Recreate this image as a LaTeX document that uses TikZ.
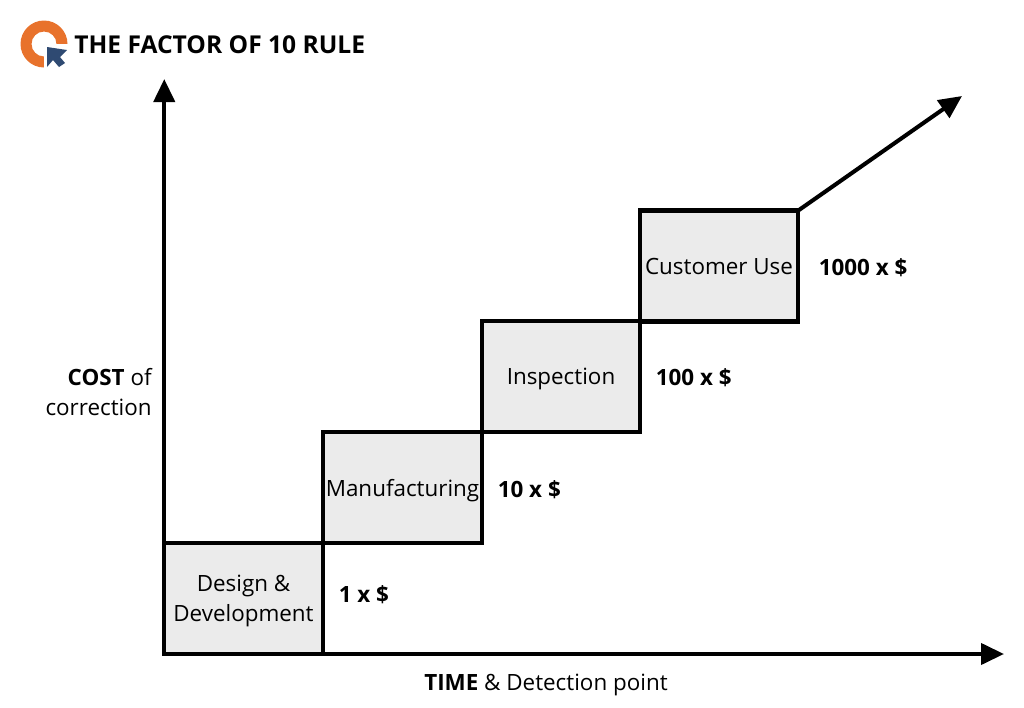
\documentclass[tikz,border=0pt]{standalone}
\usepackage{fontspec}
\setmainfont{Open Sans}
\usetikzlibrary{arrows.meta}
\definecolor{boxgray}{HTML}{EBEBEB}
\definecolor{logoorange}{HTML}{E8722C}
\definecolor{logoblue}{HTML}{2F4A72}
\tikzset{
	stepbox/.style={draw=black, fill=boxgray, line width=2.3pt, minimum width=3.17cm, minimum height=2.22cm, inner sep=0pt, outer sep=0pt, align=center, text depth=0pt, font=\fontsize{12.75}{17}\selectfont},
	axisline/.style={-{Triangle[length=0.46cm,width=0.42cm]}, line width=2.3pt, black},
	costlabel/.style={anchor=west, inner sep=0pt, font=\fontsize{12.75}{17}\selectfont\bfseries},
	axislabel/.style={inner sep=0pt, align=right, font=\fontsize{12.75}{17}\selectfont}
}
\begin{document}
\begin{tikzpicture}[x=0.02cm, y=-0.02cm]

	\useasboundingbox (0,0) rectangle (1024,707);

	% logo
	\fill[logoorange, even odd rule] (44,44) circle (23.5) (44,44) circle (12.5);
	\fill[white] (44,44) -- (72,44) -- (72,72) -- (44,72) -- cycle;
	\fill[logoblue] (47,47) -- (67,50) -- (60,57) -- (65,63) -- (59,67) -- (53,60) -- (47,67) -- cycle;
	\node[anchor=west, inner sep=0pt, font=\fontsize{14}{16}\selectfont\bfseries] (title) at (74,45) {THE FACTOR OF 10 RULE};

	% steps
	\node[stepbox] (design) at (243.5,598.5) {Design \&\\Development};
	\node[stepbox] (manufacturing) at (402.5,487.5) {Manufacturing};
	\node[stepbox] (inspection) at (561,376.5) {Inspection};
	\node[stepbox] (customer) at (719,266) {Customer Use};

	\coordinate (ytip) at (design.south west |- 0,79);
	\coordinate (xtip) at (design.south west -| 1004,0);
	\coordinate (costtip) at (962,96);

	\draw[axisline] (design.south west) -- (ytip);
	\draw[axisline] (design.south west) -- (xtip);
	\draw[axisline] (customer.north east) -- (costtip);

	\node[costlabel] (one) at (338.5,595) {1 x \$};
	\node[costlabel] (ten) at (497.5,490) {10 x \$};
	\node[costlabel] (hundred) at (655.5,378) {100 x \$};
	\node[costlabel] (thousand) at (818.5,268) {1000 x \$};

	\node[axislabel, anchor=east] (cost) at (152,392) {\textbf{COST} of\\correction};
	\node[axislabel] (time) at (546,685) {\textbf{TIME} \& Detection point};

\end{tikzpicture}
\end{document}
